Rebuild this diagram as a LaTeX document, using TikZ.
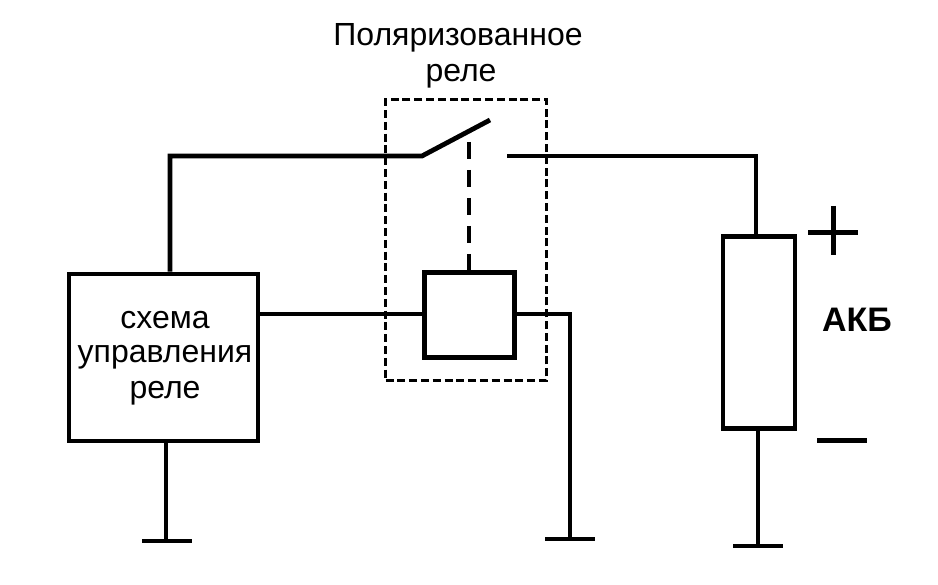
\documentclass[tikz,border=0pt]{standalone}
\usepackage{fontspec}
\setmainfont{Liberation Sans}
\begin{document}
\begin{tikzpicture}[x=1pt,y=-1pt,
  wire/.style={line width=4.8pt,black},
  boxn/.style={draw=black,line width=4.8pt,fill=white,inner sep=0pt,minimum width=#1},
  lbl/.style={font=\fontsize{32}{36}\selectfont,align=center,inner sep=0pt}]
\useasboundingbox (0,0) rectangle (938,585);
\fill[white] (0,0) rectangle (938,585);
% dashed enclosure
\node[draw=black,line width=2.2pt,dash pattern=on 8pt off 3.8pt,minimum width=161pt,minimum height=281pt,inner sep=0pt] (enc) at (466,240) {};
% boxes
\node[boxn=189pt,minimum height=167pt] (ctl) at (163.5,357.5) {};
\node[boxn=90pt,minimum height=85pt] (rel) at (469.5,315) {};
\node[boxn=72pt,minimum height=192pt] (bat) at (759,332.5) {};
% coordinates
\coordinate (sw1) at (422,156);
\coordinate (sw2) at (490,120);
\coordinate (sw3) at (507,156);
\coordinate (tl) at (170,156);
\coordinate (tr) at (756,156);
\coordinate (mid) at (469,142);
\coordinate (gr) at (570,314);
\coordinate (g1) at (166,541);
\coordinate (g2) at (570,539);
\coordinate (g3) at (758,546);
% wires
\draw[wire] (ctl.north -| tl) -- (tl) -- (sw1) -- (sw2);
\draw[wire] (sw3) -- (tr) -- (bat.north -| tr);
\draw[wire,dash pattern=on 17pt off 11pt] (mid) -- (rel.north -| mid);
\draw[wire] (ctl.east |- gr) -- (rel.west |- gr);
\draw[wire] (rel.east |- gr) -- (gr) -- (g2);
\draw[wire] (ctl.south -| g1) -- (g1);
\draw[wire] (bat.south -| g3) -- (g3);
\coordinate (g1a) at (142,541); \coordinate (g1b) at (192,541);
\coordinate (g2a) at (545,539); \coordinate (g2b) at (595,539);
\coordinate (g3a) at (733,546); \coordinate (g3b) at (783,546);
\draw[wire] (g1a) -- (g1b);
\draw[wire] (g2a) -- (g2b);
\draw[wire] (g3a) -- (g3b);
% plus / minus
\coordinate (pa) at (808,233); \coordinate (pb) at (858,233);
\coordinate (pc) at (833,206); \coordinate (pd) at (833,255);
\coordinate (ma) at (817,441); \coordinate (mb) at (867,441);
\draw[line width=5pt] (pa) -- (pb);
\draw[line width=5pt] (pc) -- (pd);
\draw[line width=5pt] (ma) -- (mb);
% labels
\node[lbl] (t1) at (458,38) {Поляризованное};
\node[lbl] (t2) at (461,76) {реле};
\node[lbl] (c1) at (165,320) {схема};
\node[lbl] (c2) at (165,357) {управления};
\node[lbl] (c3) at (165,393) {реле};
\node[font=\fontsize{34}{36}\selectfont\bfseries,inner sep=0pt] (akb) at (857,320) {АКБ};
\end{tikzpicture}
\end{document}
